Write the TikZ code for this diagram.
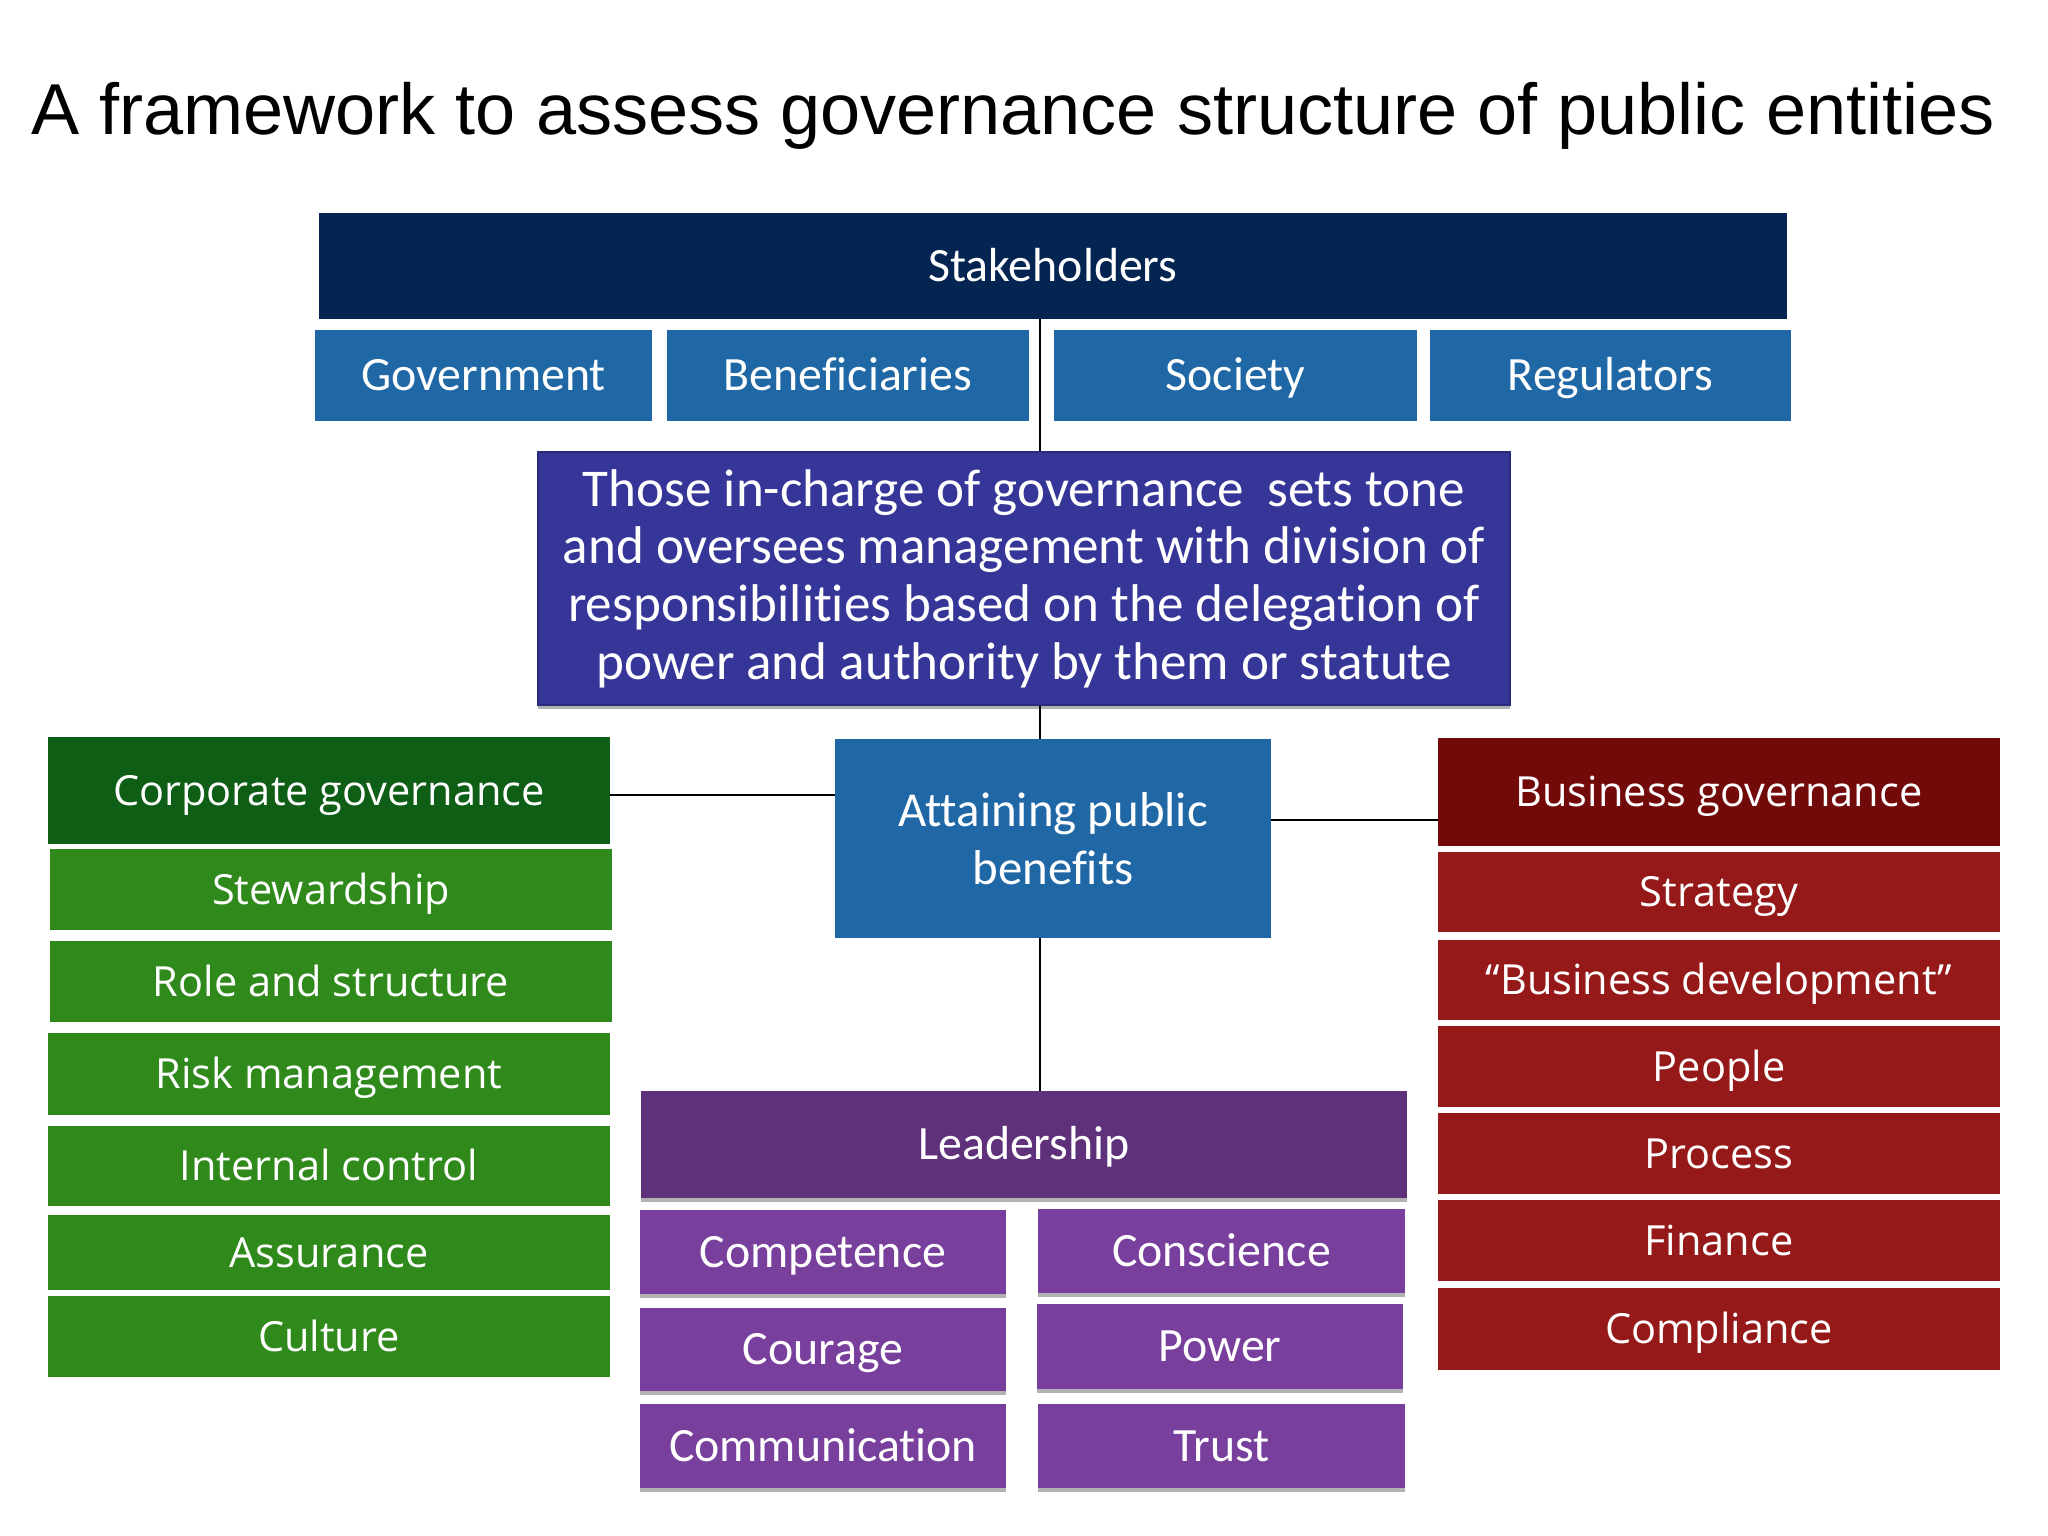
\documentclass[tikz,border=0pt]{standalone}
\usepackage{fontspec}
\setmainfont{Carlito}[Ligatures=CommonOff]
\newfontfamily\osans{Open Sans}
\newfontfamily\arialf{Liberation Sans}
\usetikzlibrary{shadows,backgrounds}
\definecolor{navy}{HTML}{042452}
\definecolor{midblue}{HTML}{2067A5}
\definecolor{indigo}{HTML}{363699}
\definecolor{indigoedge}{HTML}{2B2B7E}
\definecolor{gdark}{HTML}{0E5E16}
\definecolor{gmid}{HTML}{2F8A1B}
\definecolor{rdark}{HTML}{720A0A}
\definecolor{rmid}{HTML}{951919}
\definecolor{pdark}{HTML}{5F317A}
\definecolor{pmid}{HTML}{783F9C}
\newcommand\bxn[7]{\node[#6, minimum width={(#4-#2)*0.01cm}, minimum height={(#5-#3)*0.01cm}] (#1) at ({(#2+#4)/2},{(#3+#5)/2}) {#7};}
\tikzset{
  bx/.style={inner sep=0pt, outer sep=0pt, text=white, font=\fontsize{13.6}{16.4}\selectfont},
  one/.style={bx, text height=8.7pt, text depth=0pt},
  ogr/.style={bx, font=\osans\fontsize{11.8}{14}\selectfont, text height=8.4pt, text depth=0pt},
  shad/.style={drop shadow={shadow xshift=0pt, shadow yshift=-1.2pt, opacity=0.3, fill=black}},
  conn/.style={line width=0.6pt, black}
}
\begin{document}
\begin{tikzpicture}[x=0.01cm,y=-0.01cm]
\useasboundingbox (0,0) rectangle (2048,1536);
\node[anchor=base, inner sep=0pt, font=\arialf\fontsize{20.5}{24}\selectfont] (title) at (1013,134) {A framework to assess governance structure of public entities};
% stakeholders
\bxn{stake}{319}{213}{1787}{319}{one, fill=navy}{Stakeholders}
\bxn{gov}{315}{330}{652}{421}{one, fill=midblue}{Government}
\bxn{ben}{667}{330}{1029}{421}{one, fill=midblue}{Beneficiaries}
\bxn{soc}{1054}{330}{1417}{421}{one, fill=midblue}{Society}
\bxn{reg}{1430}{330}{1791}{421}{one, fill=midblue}{Regulators}
% governance
\bxn{tcg}{538}{452}{1510}{705}{bx, fill=indigo, draw=indigoedge, line width=0.6pt, shad, align=center, font=\fontsize{15.1}{16.4}\selectfont}{Those in-charge of governance\ \ sets tone\\and oversees management with division of\\responsibilities based on the delegation of\\power and authority by them or statute}
\bxn{attain}{835}{739}{1271}{938}{bx, fill=midblue, align=center, font=\fontsize{13.9}{16.4}\selectfont}{Attaining public\\benefits}
% corporate governance
\bxn{corp}{48}{737}{610}{844}{ogr, fill=gdark}{Corporate governance}
\bxn{stew}{50}{849}{612}{930}{ogr, fill=gmid}{Stewardship}
\bxn{role}{50}{941}{612}{1022}{ogr, fill=gmid}{Role and structure}
\bxn{risk}{48}{1033}{610}{1115}{ogr, fill=gmid}{Risk management}
\bxn{ictl}{48}{1126}{610}{1206}{ogr, fill=gmid}{Internal control}
\bxn{assu}{48}{1215}{610}{1290}{ogr, fill=gmid}{Assurance}
\bxn{cult}{48}{1296}{610}{1377}{ogr, fill=gmid}{Culture}
% business governance
\bxn{bgov}{1438}{738}{2000}{846}{ogr, fill=rdark}{Business governance}
\bxn{strat}{1438}{852}{2000}{932}{ogr, fill=rmid}{Strategy}
\bxn{bdev}{1438}{940}{2000}{1020}{ogr, fill=rmid}{“Business development”}
\bxn{peop}{1438}{1026}{2000}{1107}{ogr, fill=rmid}{People}
\bxn{proc}{1438}{1113}{2000}{1194}{ogr, fill=rmid}{Process}
\bxn{fin}{1438}{1200}{2000}{1281}{ogr, fill=rmid}{Finance}
\bxn{comp}{1438}{1288}{2000}{1370}{ogr, fill=rmid}{Compliance}
% leadership
\bxn{lead}{641}{1091}{1407}{1198}{one, fill=pdark, shad}{Leadership}
\bxn{compet}{640}{1210}{1006}{1294}{one, fill=pmid, shad}{Competence}
\bxn{consc}{1038}{1209}{1405}{1293}{one, fill=pmid, shad}{Conscience}
\bxn{cour}{640}{1308}{1006}{1391}{one, fill=pmid, shad}{Courage}
\bxn{powr}{1037}{1304}{1403}{1389}{one, fill=pmid, shad}{Power}
\bxn{commu}{640}{1404}{1006}{1488}{one, fill=pmid, shad}{Communication}
\bxn{trust}{1038}{1404}{1405}{1488}{one, fill=pmid, shad}{Trust}
% connectors
\coordinate (lx) at (1040,0);
\begin{scope}[on background layer]
\draw[conn] (stake.south -| lx) -- (attain.north -| lx);
\draw[conn] (attain.south -| lx) -- (lead.north -| lx);
\draw[conn] (corp.east |- 0,795) -- (attain.west |- 0,795);
\draw[conn] (attain.east |- 0,820) -- (bgov.west |- 0,820);
\end{scope}
\end{tikzpicture}
\end{document}
